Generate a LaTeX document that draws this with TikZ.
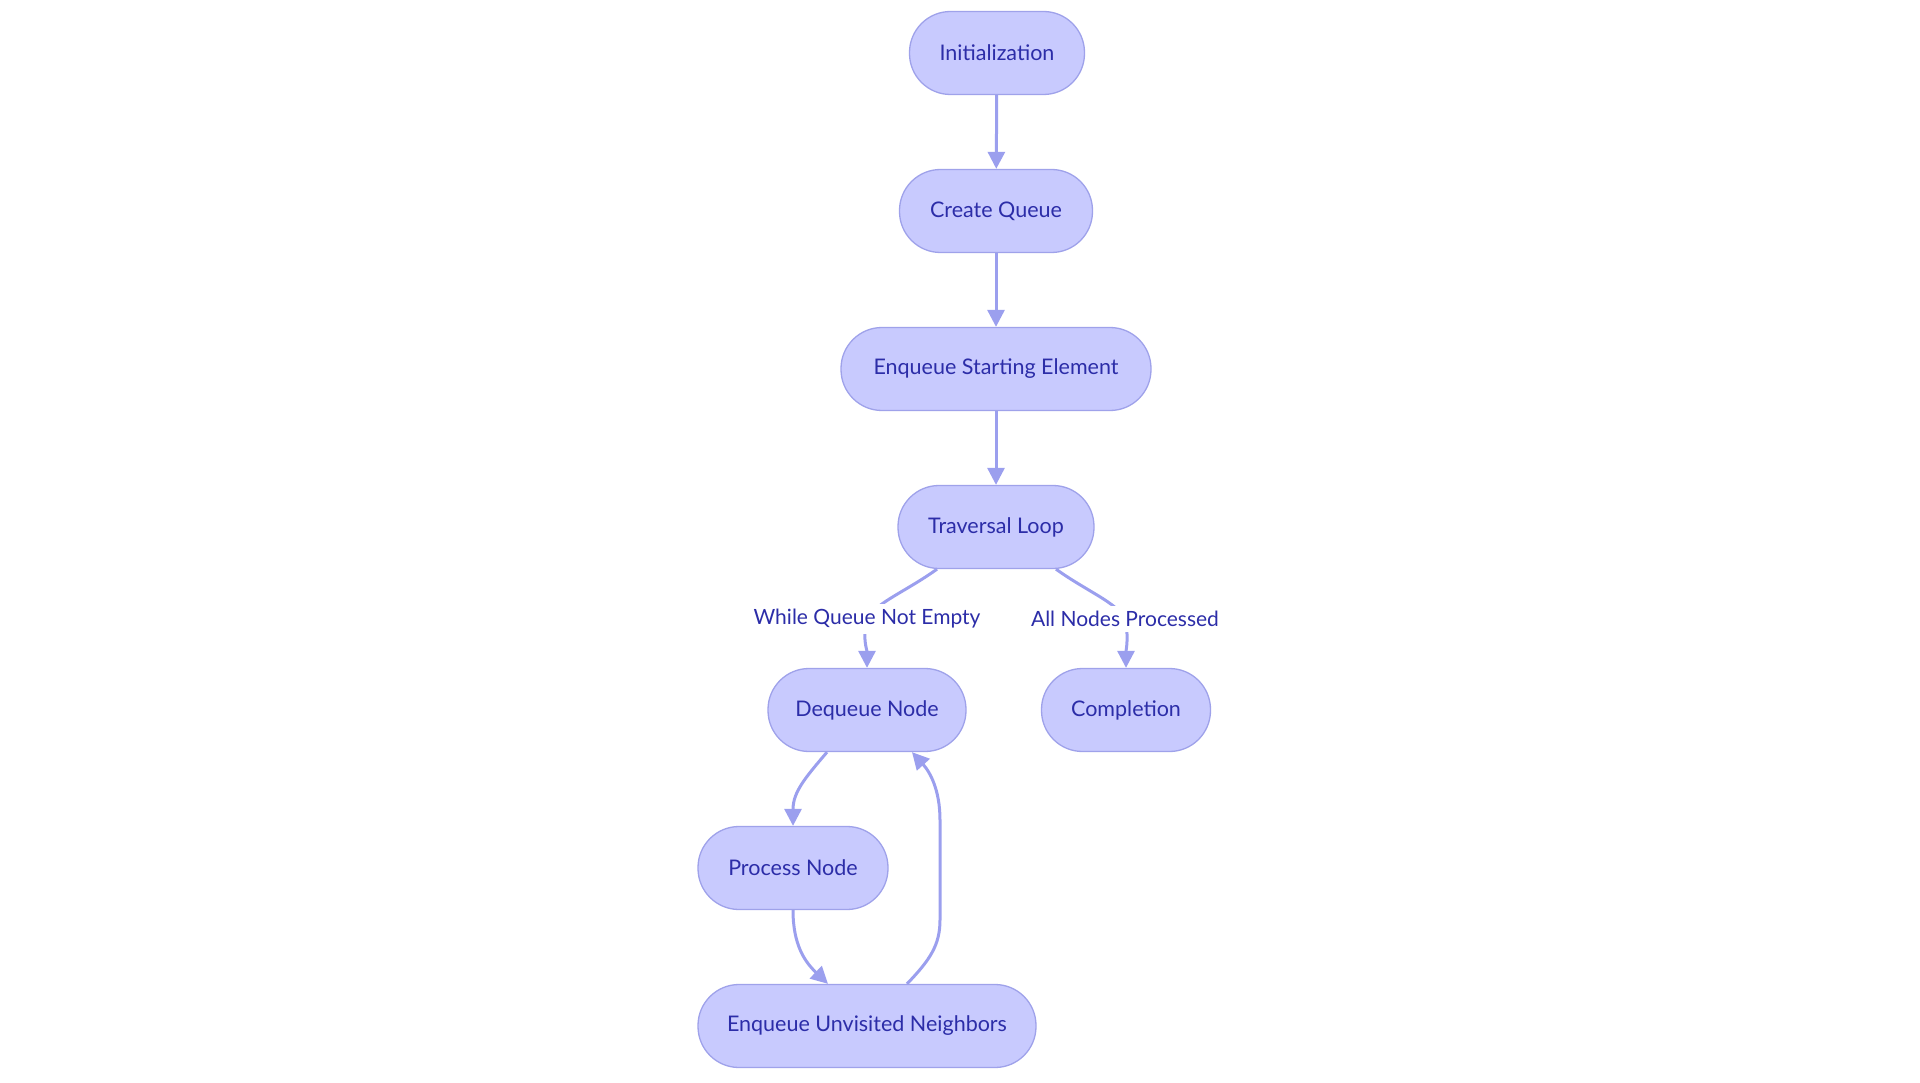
\documentclass[tikz,border=0pt]{standalone}
\usepackage{fontspec}
\setmainfont{Lato}
\usetikzlibrary{arrows.meta,calc}
\definecolor{nfill}{HTML}{C8CAFE}
\definecolor{nstroke}{HTML}{9FA2EA}
\definecolor{ntext}{HTML}{2C2DA8}
\definecolor{eline}{HTML}{9B9FEE}
\begin{document}
\begin{tikzpicture}[x=1pt,y=-1pt,
  box/.style={draw=nstroke,fill=nfill,line width=1.3pt,rounded corners=41pt,
    minimum height=83pt,inner sep=0pt,text=ntext,font=\fontsize{21.5}{25}\selectfont},
  edge/.style={draw=eline,line width=3pt,-{Triangle[length=17pt,width=17pt]}},
  lbl/.style={fill=white,inner xsep=2pt,inner ysep=5pt,text=ntext,font=\fontsize{21}{25}\selectfont}]
\useasboundingbox (0,0) rectangle (1920,1083);
\node[box,minimum width=175pt] (init) at (997,53) {Initialization};
\node[box,minimum width=193pt] (create) at (996,211) {Create Queue};
\node[box,minimum width=310pt] (enqs) at (996,369) {Enqueue Starting Element};
\node[box,minimum width=196pt] (trav) at (996,527) {Traversal Loop};
\node[box,minimum width=198pt] (deq) at (867,710) {Dequeue Node};
\node[box,minimum width=169pt] (comp) at (1126,710) {Completion};
\node[box,minimum width=190pt] (proc) at (793,868) {Process Node};
\node[box,minimum width=338pt] (enqu) at (867,1026) {Enqueue Unvisited Neighbors};
\draw[edge] (init) -- (create);
\draw[edge] (create) -- (enqs);
\draw[edge] (enqs) -- (trav);
\draw[edge] ($(trav.south)+(-59,0)$) .. controls (905,592) and (877,602) .. (867,619)
  node[lbl] (l1) {While Queue Not Empty}
  .. controls (862,637) and (867,650) .. (deq.north);
\draw[edge] ($(trav.south)+(60,0)$) .. controls (1088,592) and (1116,602) .. (1125,619)
  node[lbl] (l2) {All Nodes Processed}
  .. controls (1129,637) and (1126,650) .. (comp.north);
\draw[edge] ($(deq.south)+(-40,0)$) .. controls (805,778) and (793,792) .. (proc.north);
\draw[edge] (proc.south) .. controls (793,945) and (805,962) .. ($(enqu.north)+(-39,0)$);
\draw[edge] ($(enqu.north)+(40,0)$) .. controls (930,960) and (940,945) .. (940,920)
  -- (940,820) .. controls (940,790) and (930,772) .. ($(deq.south)+(45,0)$);
\end{tikzpicture}
\end{document}
